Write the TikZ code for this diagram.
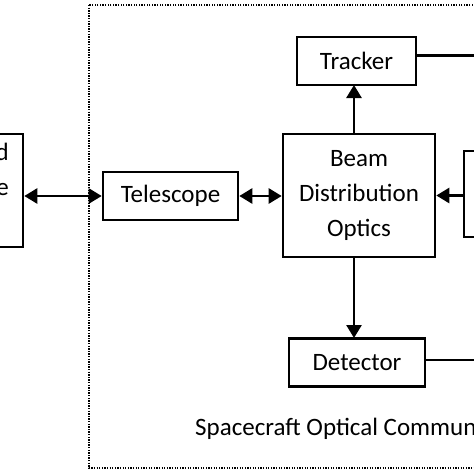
\documentclass[tikz,border=0pt]{standalone}
\usepackage{fontspec}
\setmainfont{Carlito}
\usetikzlibrary{arrows.meta}
\begin{document}
\begin{tikzpicture}[x=1pt,y=-1pt,
  txt/.style={font=\fontsize{25}{35}\selectfont},
  box/.style={txt, draw=black, line width=2.6pt, fill=white, inner sep=0pt, align=center},
  conn/.style={line width=2.6pt, draw=black},
  arr/.style={conn, -{Triangle[length=13pt,width=15pt]}},
  biarr/.style={conn, {Triangle[length=13pt,width=15pt]}-{Triangle[length=13pt,width=15pt]}},
  frame/.style={draw=black, line width=1.8pt, dash pattern=on 1.3pt off 1.3pt}
]
\useasboundingbox (0,0) rectangle (474,474);
\clip (0,0) rectangle (474,474);
\draw[frame] (89,5) rectangle (490,468);
\node[box, minimum width=83, minimum height=113] (gnd) at (-18.5,190.5) {};
\node[txt, anchor=base east, align=right, inner sep=0pt] (gndtxt) at (9,195) {Ground\\Interface};
\node[box, minimum width=135, minimum height=48] (tel) at (170.5,196) {Telescope};
\node[box, minimum width=152, minimum height=123] (bdo) at (359,195.5) {Beam\\Distribution\\Optics};
\node[box, minimum width=119, minimum height=48] (trk) at (356.5,61) {Tracker};
\node[box, minimum width=136, minimum height=48] (det) at (357,362.5) {Detector};
\node[box, minimum width=70, minimum height=86] (rb) at (499,194) {};
\node[txt, anchor=base west, inner sep=0pt] (lbl) at (195,435) {Spacecraft Optical Communication};
\coordinate (trkend) at (480,55.5);
\coordinate (detend) at (480,360);
\draw[biarr] (gnd.east |- tel.west) -- (tel.west);
\draw[biarr] (tel.east) -- (tel.east -| bdo.west);
\draw[arr] (354,134) -- (354,85);
\draw[arr] (354,257) -- (354,338);
\draw[arr] (rb.west |- bdo.east) -- (bdo.east);
\draw[conn] (trk.east |- trkend) -- (trkend);
\draw[conn] (det.east |- detend) -- (detend);
\end{tikzpicture}
\end{document}
